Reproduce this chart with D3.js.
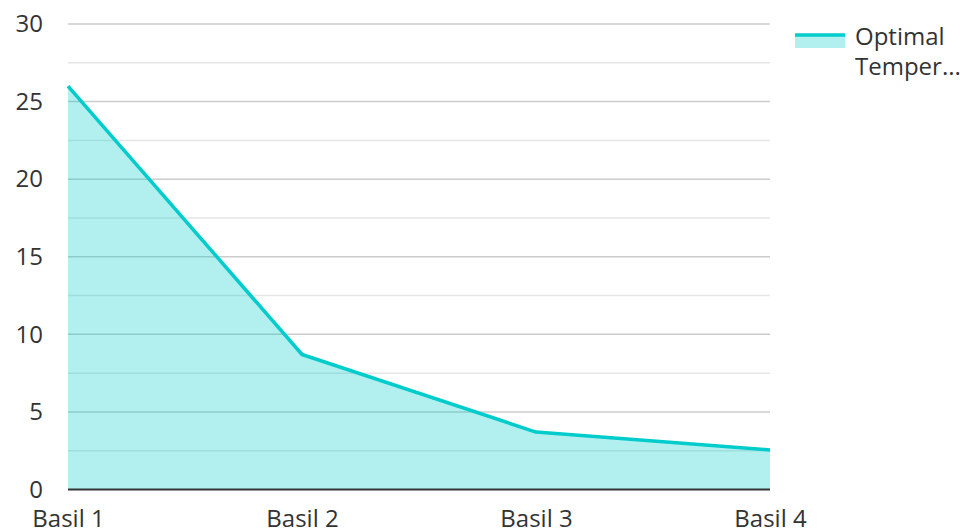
<!DOCTYPE html>
<html>
<head>
<meta charset="utf-8">
<script src="https://cdn.jsdelivr.net/npm/d3@7"></script>
<style>
  html, body { margin: 0; padding: 0; background: #fff; }
  svg { display: block; font-family: "Open Sans", "Noto Sans", sans-serif; }
</style>
</head>
<body>
<svg id="chart" width="960" height="531"></svg>
<script>
// Optimal temperature per basil sample
const categories = ["Basil 1", "Basil 2", "Basil 3", "Basil 4"];
const values = [26, 8.7, 3.7, 2.55];
const yTicks = [0, 5, 10, 15, 20, 25, 30];
const minorTicks = [2.5, 7.5, 12.5, 17.5, 22.5, 27.5];
const seriesName = "Optimal Temperature";
const legendLines = ["Optimal", "Temper..."];

const lineColor = "#00cccc";
const textColor = "#333333";
const fontSize = 24;

const svg = d3.select("#chart");
const plotLeft = 68, plotRight = 770, plotTop = 24, plotBottom = 489.5;

const x = d3.scalePoint().domain(categories).range([plotLeft, plotRight]);
const y = d3.scaleLinear().domain([0, 30]).range([plotBottom, plotTop]);

// minor grid
svg.append("g").selectAll("line").data(minorTicks).join("line")
  .attr("x1", plotLeft).attr("x2", plotRight)
  .attr("y1", d => y(d)).attr("y2", d => y(d))
  .attr("stroke", "#e6e6e6").attr("stroke-width", 1.5);

// major grid
svg.append("g").selectAll("line").data(yTicks.filter(d => d > 0)).join("line")
  .attr("x1", plotLeft).attr("x2", plotRight)
  .attr("y1", d => y(d)).attr("y2", d => y(d))
  .attr("stroke", "#cccccc").attr("stroke-width", 1.5);

const pts = categories.map((c, i) => [c, values[i]]);

// translucent area fill
svg.append("path")
  .datum(pts)
  .attr("d", d3.area().x(d => x(d[0])).y0(y(0)).y1(d => y(d[1])))
  .attr("fill", lineColor)
  .attr("fill-opacity", 0.3);

// series line
svg.append("path")
  .datum(pts)
  .attr("d", d3.line().x(d => x(d[0])).y(d => y(d[1])))
  .attr("fill", "none")
  .attr("stroke", lineColor)
  .attr("stroke-width", 3.5)
  .attr("stroke-linejoin", "round");

// baseline axis
svg.append("line")
  .attr("x1", plotLeft).attr("x2", plotRight)
  .attr("y1", y(0)).attr("y2", y(0))
  .attr("stroke", "#333").attr("stroke-width", 2);

// y tick labels
const yAxis = d3.axisLeft(y).tickValues(yTicks).tickSize(0).tickPadding(0);
const gy = svg.append("g").attr("transform", "translate(43,0)").call(yAxis);
gy.select(".domain").remove();
gy.selectAll("text")
  .attr("font-size", fontSize).attr("fill", textColor)
  .attr("font-family", "Open Sans, Noto Sans, sans-serif");

// x tick labels
const xAxis = d3.axisBottom(x).tickSize(0).tickPadding(0);
const gx = svg.append("g").attr("transform", "translate(0,509.5)").call(xAxis);
gx.select(".domain").remove();
gx.selectAll("text")
  .attr("font-size", fontSize).attr("fill", textColor)
  .attr("font-family", "Open Sans, Noto Sans, sans-serif");

// legend
const lg = svg.append("g").attr("transform", "translate(795,0)");
lg.append("rect").attr("x", 0).attr("y", 36).attr("width", 50).attr("height", 12)
  .attr("fill", lineColor).attr("fill-opacity", 0.3);
lg.append("line").attr("x1", 0).attr("x2", 50).attr("y1", 35).attr("y2", 35)
  .attr("stroke", lineColor).attr("stroke-width", 3.5);
lg.append("text")
  .attr("x", 60).attr("y", 45)
  .attr("font-size", fontSize).attr("fill", textColor)
  .selectAll("tspan").data(legendLines).join("tspan")
  .attr("x", 60).attr("dy", (d, i) => i === 0 ? 0 : 29.5)
  .text(d => d);
lg.append("title").text(seriesName);
</script>
</body>
</html>
